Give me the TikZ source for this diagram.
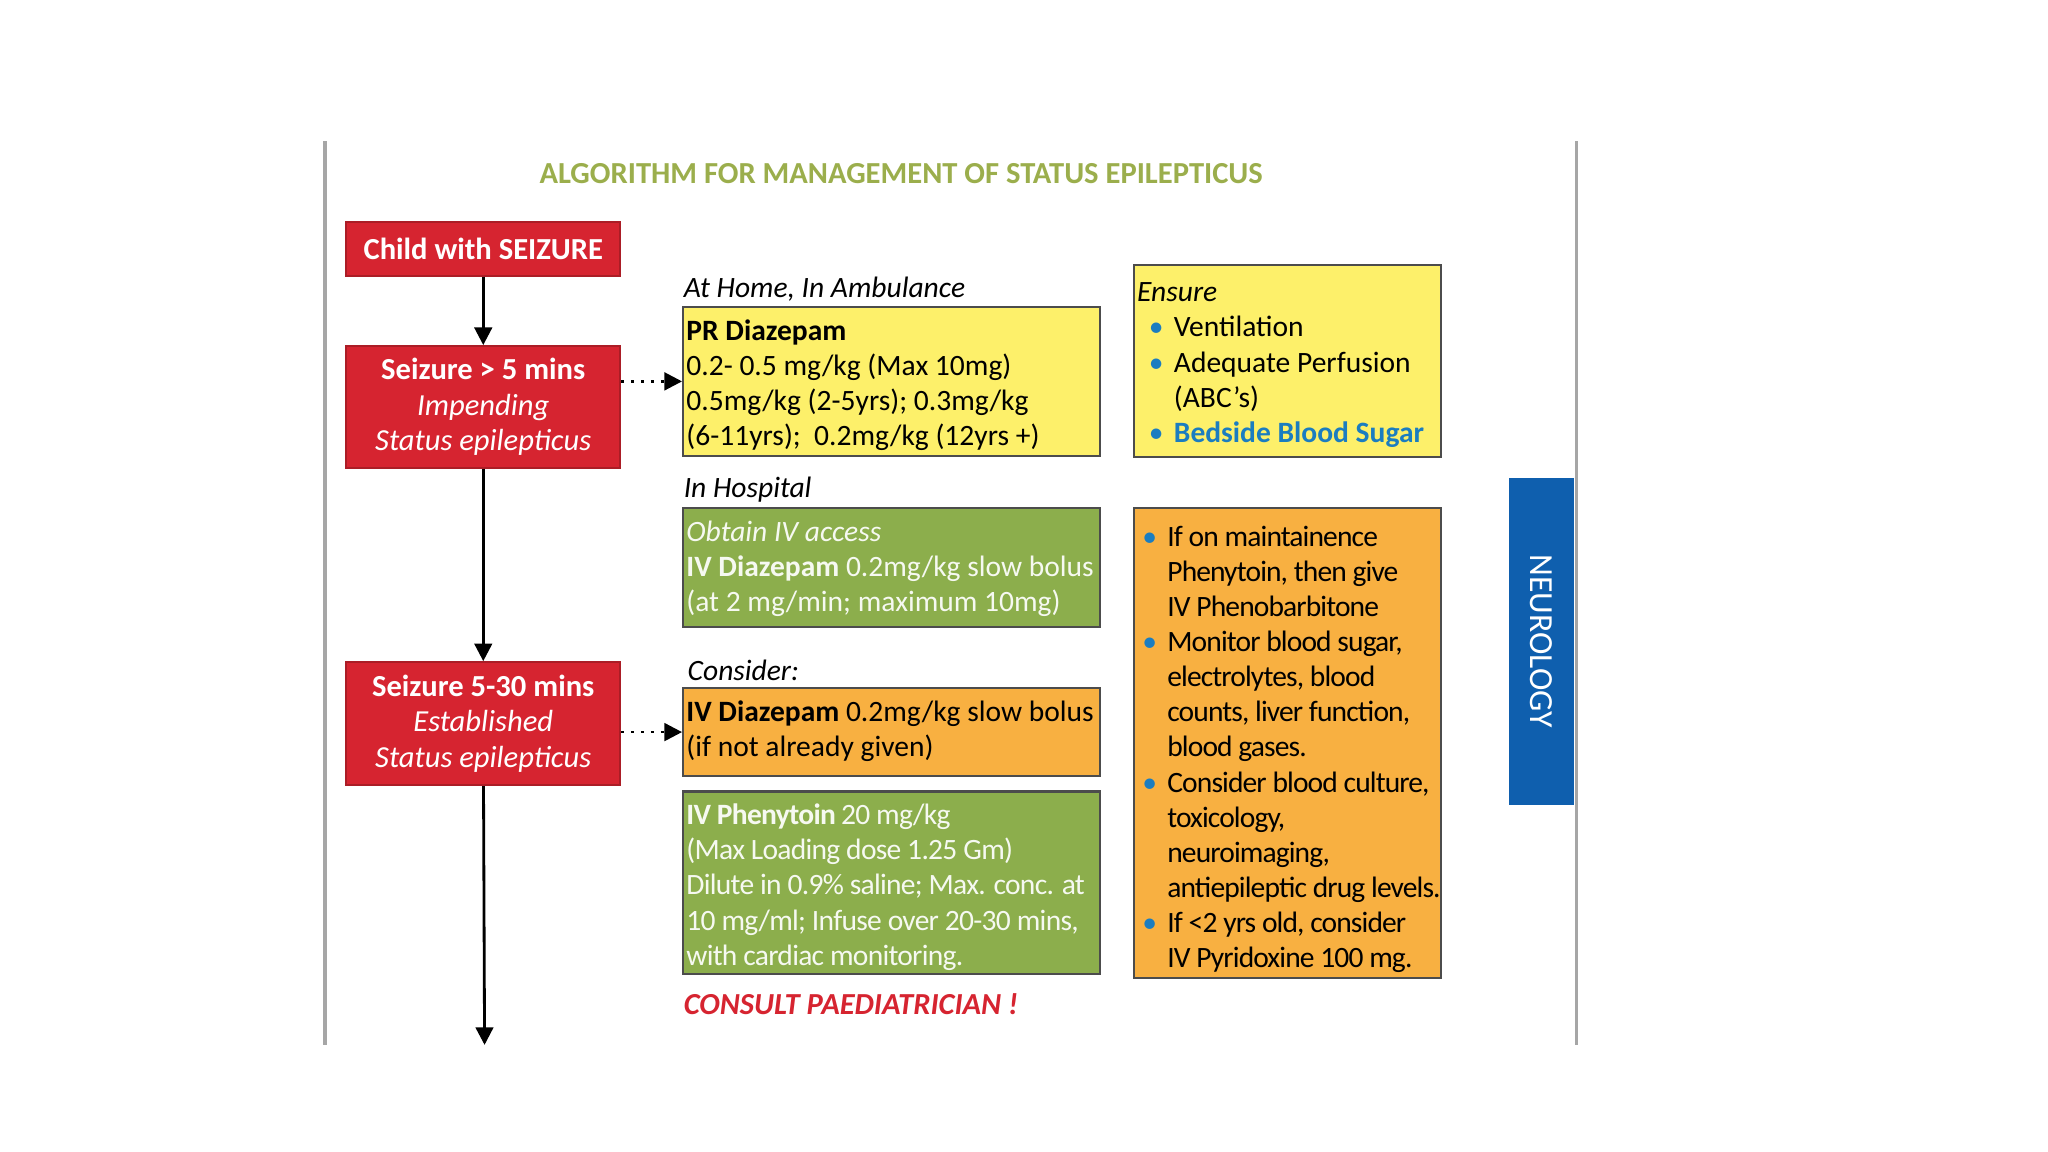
\documentclass[tikz,border=0pt]{standalone}
\usepackage{fontspec}
\setmainfont{Carlito}
\usetikzlibrary{fit,arrows.meta}
\definecolor{rd}{HTML}{D62430}
\definecolor{yl}{HTML}{FDF06A}
\definecolor{gr}{HTML}{8CAE4C}
\definecolor{orng}{HTML}{F8B041}
\definecolor{bl}{HTML}{0F5FAE}
\definecolor{bul}{HTML}{1B7DC0}
\definecolor{olive}{HTML}{9BAE4C}
\newcommand{\bl}{\makebox[0.85em][l]{\textcolor{bul}{•}}}
\newcommand{\ind}{\hspace*{0.85em}}
\begin{document}
\begin{tikzpicture}[x=0.01306cm,y=-0.01306cm,
  redbox/.style={draw=rd!80!black,fill=rd,inner sep=0,line width=0.6pt},
  cbox/.style={draw=black!70,inner sep=0,line width=0.6pt},
  txt/.style={anchor=north west,inner sep=0,align=left,font=\fontsize{8.4}{10}\selectfont},
  hd/.style={anchor=west,inner sep=0,font=\fontsize{8.4}{10}\selectfont\itshape},
  arr/.style={-{Triangle[length=5pt,width=5pt]},line width=0.8pt},
  darr/.style={-{Triangle[length=5pt,width=5pt]},dotted,line width=0.8pt}]
\useasboundingbox (0,0) rectangle (1568,882);
\draw[black!35,line width=1pt] (249,108) -- (249,800);
\draw[black!35,line width=1pt] (1207,108) -- (1207,800);
\node[inner sep=0,text=olive,font=\fontsize{8.7}{10}\selectfont\bfseries] (title) at (690,133) {ALGORITHM FOR MANAGEMENT OF STATUS EPILEPTICUS};
% red boxes
\node[redbox,fit={(265,170)(475,211)}] (b1) {};
\node[font=\fontsize{8.7}{10}\selectfont\bfseries,text=white] at (b1) {Child with SEIZURE};
\node[redbox,fit={(265,265)(475,358)}] (b2) {};
\node[text=white,align=center,font=\fontsize{8.7}{10.2}\selectfont] at (b2) {\textbf{Seizure > 5 mins}\\\textit{Impending}\\\textit{Status epilepticus}};
\node[redbox,fit={(265,507)(475,601)}] (b3) {};
\node[text=white,align=center,font=\fontsize{8.7}{10.2}\selectfont] at (b3) {\textbf{Seizure 5-30 mins}\\\textit{Established}\\\textit{Status epilepticus}};
\coordinate (end) at (371,800);
\draw[arr] (b1) -- (b2);
\draw[arr] (b2) -- (b3);
\draw[arr] (b3) -- (end);
% middle column
\node[hd] (h1) at (523,221) {At Home, In Ambulance};
\node[cbox,fill=yl,fit={(523,235)(842,349)}] (y1) {};
\node[txt] (ty1) at (525,244) {\textbf{PR Diazepam}\\0.2- 0.5 mg/kg (Max 10mg)\\0.5mg/kg (2-5yrs); 0.3mg/kg\\(6-11yrs);\ \ 0.2mg/kg (12yrs +)};
\node[hd] (h2) at (523,375) {In Hospital};
\node[cbox,fill=gr,fit={(523,389)(842,480)}] (g1) {};
\node[txt,text=white!92!gr] (tg1) at (525,398) {\textit{Obtain IV access}\\\textbf{IV Diazepam} 0.2mg/kg slow bolus\\(at 2 mg/min; maximum 10mg)};
\node[hd] (h3) at (526,513) {Consider:};
\node[cbox,fill=orng,fit={(523,527)(842,594)}] (o1) {};
\node[txt] (to1) at (525,536) {\textbf{IV Diazepam} 0.2mg/kg slow bolus\\(if not already given)};
\node[cbox,fill=gr,fit={(523,606)(842,746)}] (g2) {};
\node[txt,text=white!92!gr,font=\fontsize{8.4}{10}\selectfont\addfontfeatures{LetterSpace=-2.5}] (tg2) at (525,615) {\textbf{IV Phenytoin} 20 mg/kg\\(Max Loading dose 1.25 Gm)\\Dilute in 0.9\% saline; Max. conc. at\\10 mg/ml; Infuse over 20-30 mins,\\with cardiac monitoring.};
\node[hd,text=rd,font=\fontsize{8.7}{10}\selectfont\bfseries\itshape] (cons) at (523,769) {CONSULT PAEDIATRICIAN !};
\draw[darr] (b2.east |- y1.west) -- (y1.west);
\draw[darr] (b3.east |- o1.west) -- (o1.west);
% right column
\node[cbox,fill=yl,fit={(868,203)(1103,350)}] (y2) {};
\node[txt] (ty2) at (870,216) {\textit{Ensure}\\\hspace*{0.4em}\bl Ventilation\\\hspace*{0.4em}\bl Adequate Perfusion\\\hspace*{1.25em}(ABC’s)\\\hspace*{0.4em}\bl\textcolor{bul}{\textbf{Bedside Blood Sugar}}};
\node[cbox,fill=orng,fit={(868,389)(1103,749)}] (o2) {};
\node[txt,font=\fontsize{8.4}{10}\selectfont\addfontfeatures{LetterSpace=-3}] (to2) at (874,402) {\bl If on maintainence\\\ind Phenytoin, then give\\\ind IV Phenobarbitone\\\bl Monitor blood sugar,\\\ind electrolytes, blood\\\ind counts, liver function,\\\ind blood gases.\\\bl Consider blood culture,\\\ind toxicology,\\\ind neuroimaging,\\\ind antiepileptic drug levels.\\\bl If <2 yrs old, consider\\\ind IV Pyridoxine 100 mg.};
\node[fill=bl,inner sep=0,fit={(1155,366)(1205,616)}] (tab) {};
\node[rotate=-90,text=white,font=\fontsize{9.6}{11}\selectfont] (neu) at (tab) {NEUROLOGY};
\end{tikzpicture}
\end{document}
